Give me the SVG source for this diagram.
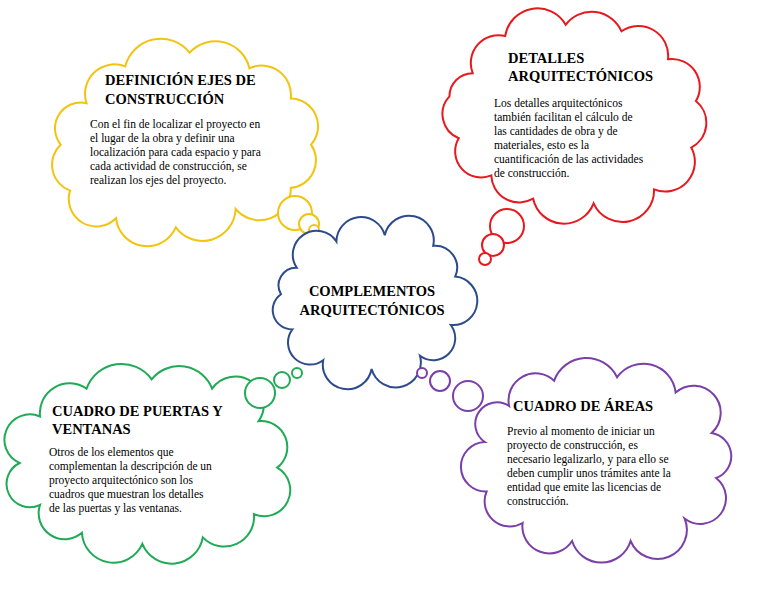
<svg xmlns="http://www.w3.org/2000/svg" width="768" height="594" viewBox="0 0 768 594">
<style>
.c{fill:#fff;stroke-width:2;vector-effect:non-scaling-stroke}
.t{font-family:"Liberation Serif",serif;font-weight:bold;font-size:14.5px;fill:#000;stroke:none}
.b{font-family:"Liberation Serif",serif;font-size:11.5px;fill:#000;stroke:none}
</style>
<rect width="768" height="594" fill="#fff"/>
<g id="yellow" stroke="#f2c40f">
<path class="c" transform="translate(185,140) scale(0.92) translate(-185,-140)" d="M78,100 A32,32 0 0 1 120,60 A40,40 0 0 1 190,45 A38,38 0 0 1 255,62 A32,32 0 0 1 300,95 A30,30 0 0 1 322,145 A30,30 0 0 1 300,192 A34,34 0 0 1 240,215 A36,36 0 0 1 175,235 A34,34 0 0 1 110,225 A30,30 0 0 1 60,195 A30,30 0 0 1 50,145 A28,28 0 0 1 78,100 Z"/>
<circle class="c" cx="295" cy="213" r="17"/><circle class="c" cx="309" cy="224" r="10"/><circle class="c" cx="314" cy="230" r="5"/>
<text class="t" x="105" y="85">DEFINICIÓN EJES DE</text><text class="t" x="105" y="104">CONSTRUCCIÓN</text>
<text class="b"><tspan x="90" y="128">Con el fin de localizar el proyecto en</tspan><tspan x="90" y="142">el lugar de la obra y definir una</tspan><tspan x="90" y="156">localización para cada espacio y para</tspan><tspan x="90" y="170">cada actividad de construcción, se</tspan><tspan x="90" y="184">realizan los ejes del proyecto.</tspan></text>
</g>
<g id="red" stroke="#e8191e">
<path class="c" transform="translate(575,115) scale(0.93) translate(-575,-115)" d="M465,70 A30,30 0 0 1 500,30 A35,35 0 0 1 565,18 A35,35 0 0 1 625,25 A32,32 0 0 1 675,55 A30,30 0 0 1 705,100 A30,30 0 0 1 700,150 A32,32 0 0 1 660,195 A34,34 0 0 1 595,210 A34,34 0 0 1 530,205 A30,30 0 0 1 485,180 A28,28 0 0 1 450,140 A28,28 0 0 1 440,95 A25,25 0 0 1 465,70 Z"/>
<circle class="c" cx="507" cy="226" r="17"/><circle class="c" cx="493" cy="245" r="11"/><circle class="c" cx="485" cy="259" r="6"/>
<text class="t" x="508" y="63">DETALLES</text><text class="t" x="508" y="81">ARQUITECTÓNICOS</text>
<text class="b"><tspan x="494" y="107">Los detalles arquitectónicos</tspan><tspan x="494" y="121">también facilitan el cálculo de</tspan><tspan x="494" y="135">las cantidades de obra y de</tspan><tspan x="494" y="149">materiales, esto es la</tspan><tspan x="494" y="163">cuantificación de las actividades</tspan><tspan x="494" y="177">de construcción.</tspan></text>
</g>
<g id="center" stroke="#2d4b8c">
<path class="c" transform="translate(376,303) scale(0.88) translate(-380,-305)" d="M290,265 A25,25 0 0 1 335,235 A28,28 0 0 1 390,228 A28,28 0 0 1 445,240 A25,25 0 0 1 470,275 A25,25 0 0 1 465,330 A25,25 0 0 1 430,365 A28,28 0 0 1 375,380 A26,26 0 0 1 320,370 A25,25 0 0 1 285,335 A22,22 0 0 1 272,295 A20,20 0 0 1 290,265 Z"/>
<text class="t" x="372" y="296" text-anchor="middle">COMPLEMENTOS</text><text class="t" x="372" y="315" text-anchor="middle">ARQUITECTÓNICOS</text>
</g>
<g id="green" stroke="#1faa55">
<path class="c" transform="translate(147,463) scale(0.93) translate(-145,-465)" d="M30,415 A32,32 0 0 1 80,385 A40,40 0 0 1 150,375 A38,38 0 0 1 215,385 A30,30 0 0 1 265,420 A28,28 0 0 1 285,470 A28,28 0 0 1 260,520 A32,32 0 0 1 205,545 A34,34 0 0 1 140,552 A34,34 0 0 1 75,540 A28,28 0 0 1 30,510 A25,25 0 0 1 8,465 A24,24 0 0 1 30,415 Z"/>
<circle class="c" cx="260" cy="393" r="15"/><circle class="c" cx="282" cy="380" r="8"/><circle class="c" cx="297" cy="373" r="5"/>
<text class="t" x="52" y="416">CUADRO DE PUERTAS Y</text><text class="t" x="52" y="434">VENTANAS</text>
<text class="b"><tspan x="49" y="456">Otros de los elementos que</tspan><tspan x="49" y="470">complementan la descripción de un</tspan><tspan x="49" y="484">proyecto arquitectónico son los</tspan><tspan x="49" y="498">cuadros que muestran los detalles</tspan><tspan x="49" y="512">de las puertas y las ventanas.</tspan></text>
</g>
<g id="purple" stroke="#7a3fa8">
<path class="c" transform="translate(600,460) scale(0.9) translate(-596,-460)" d="M495,400 A30,30 0 0 1 545,372 A38,38 0 0 1 615,368 A36,36 0 0 1 680,385 A30,30 0 0 1 720,430 A26,26 0 0 1 725,480 A28,28 0 0 1 690,525 A32,32 0 0 1 630,550 A34,34 0 0 1 565,550 A30,30 0 0 1 510,530 A28,28 0 0 1 470,495 A25,25 0 0 1 468,440 A24,24 0 0 1 495,400 Z"/>
<circle class="c" cx="468" cy="396" r="15"/><circle class="c" cx="440" cy="381" r="10"/><circle class="c" cx="422" cy="373" r="5"/>
<text class="t" x="513" y="411">CUADRO DE ÁREAS</text>
<text class="b"><tspan x="507" y="435">Previo al momento de iniciar un</tspan><tspan x="507" y="449">proyecto de construcción, es</tspan><tspan x="507" y="463">necesario legalizarlo, y para ello se</tspan><tspan x="507" y="477">deben cumplir unos trámites ante la</tspan><tspan x="507" y="491">entidad que emite las licencias de</tspan><tspan x="507" y="505">construcción.</tspan></text>
</g>
<g id="connectors"></g>
</svg>
